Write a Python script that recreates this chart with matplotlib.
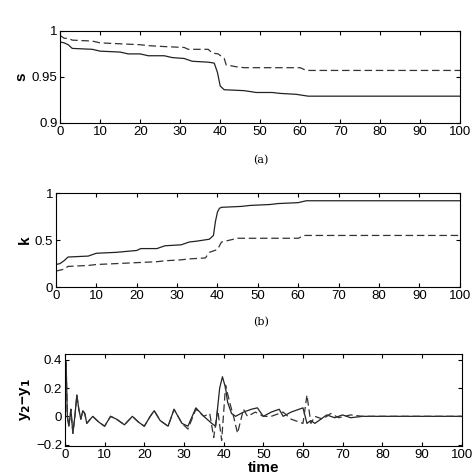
import matplotlib
matplotlib.use('Agg')
import matplotlib.pyplot as plt

plt.rcParams['font.family'] = ['Liberation Sans', 'DejaVu Sans']

# panel (a): s
S_SOLID_T = [0, 1, 2, 3, 8, 10, 15, 17, 20, 22, 26, 28, 31, 33, 37, 38.5, 39.3, 40, 41, 46, 49, 53, 55, 59, 62, 100]
S_SOLID = [0.988, 0.987, 0.985, 0.981, 0.980, 0.978, 0.977, 0.975, 0.975, 0.973, 0.973, 0.971, 0.970, 0.967,
           0.966, 0.965, 0.955, 0.940, 0.936, 0.935, 0.933, 0.933, 0.932, 0.931, 0.929, 0.929]
S_DASH_T = [0, 1, 2, 3, 8, 10, 15, 20, 22, 26, 31, 32, 37, 38, 39.5, 41, 41.5, 44, 46, 60, 61.5, 100]
S_DASH = [0.995, 0.992, 0.992, 0.990, 0.989, 0.987, 0.986, 0.985, 0.984, 0.983, 0.982, 0.980, 0.980, 0.976,
          0.975, 0.970, 0.963, 0.961, 0.960, 0.960, 0.957, 0.957]

# panel (b): k
K_SOLID_T = [0, 1, 2, 3, 8, 10, 15, 20, 21, 25, 27, 31, 33, 35, 38, 39, 39.5, 40, 40.5, 41, 46, 48, 53, 55, 60, 62, 100]
K_SOLID = [0.24, 0.25, 0.28, 0.32, 0.33, 0.36, 0.37, 0.39, 0.41, 0.41, 0.44, 0.45, 0.48, 0.49, 0.51, 0.55,
           0.70, 0.80, 0.84, 0.85, 0.86, 0.87, 0.88, 0.89, 0.90, 0.92, 0.92]
K_DASH_T = [0, 1, 2, 3, 8, 10, 15, 20, 25, 27, 31, 33, 37, 38, 40, 41, 42, 45, 60, 61.5, 100]
K_DASH = [0.17, 0.18, 0.19, 0.22, 0.23, 0.24, 0.25, 0.26, 0.27, 0.28, 0.29, 0.30, 0.31, 0.37, 0.40,
          0.48, 0.49, 0.52, 0.52, 0.55, 0.55]

# panel (c): y2 - y1
Y_SOLID_T = [0, 0.3, 0.6, 1, 1.5, 2, 2.5, 3, 3.5, 4, 4.5, 5, 5.5, 7, 8.5, 10, 11.5, 13, 15, 17, 18.5, 20, 21.5,
             22.5, 24, 26, 27.5, 29.5, 31, 33, 35, 37, 38, 39, 39.7, 40.5, 41, 42, 43, 45, 47, 48.5, 50, 52, 54,
             55, 57, 60, 61, 62, 63, 64, 66, 68, 70, 72, 75, 100]
Y_SOLID = [0.40, 0.38, 0.0, -0.07, 0.05, -0.12, 0.0, 0.15, 0.05, -0.02, 0.04, 0.02, -0.05, 0.0, -0.04, -0.07,
           0.0, -0.02, -0.06, 0.0, -0.04, -0.07, 0.0, 0.04, -0.03, -0.07, 0.05, -0.05, -0.07, 0.06, 0.0, -0.05,
           -0.07, 0.20, 0.28, 0.20, 0.10, 0.02, 0.0, 0.03, 0.05, 0.06, 0.0, 0.03, 0.05, 0.0, 0.03, 0.06, -0.05,
           -0.03, -0.05, -0.03, 0.01, -0.01, 0.01, -0.01, 0.0, 0.0]
Y_DASH_T = [0, 0.3, 0.6, 1, 1.5, 2, 2.5, 3, 3.5, 4, 4.5, 5, 5.5, 7, 8.5, 10, 11.5, 13, 15, 17, 18.5, 20, 21.5,
            22.5, 24, 26, 27.5, 29.5, 31, 33, 35, 36.5, 37.5, 38.5, 39.5, 40.5, 41.5, 42.5, 43.5, 45, 46, 48,
            50, 52, 55, 57, 60, 61, 62, 63, 65, 67, 69, 72, 75, 100]
Y_DASH = [0.40, 0.38, 0.0, -0.07, 0.05, -0.12, 0.0, 0.15, 0.05, -0.02, 0.04, 0.02, -0.05, 0.0, -0.04, -0.07,
          0.0, -0.02, -0.06, 0.0, -0.04, -0.07, 0.0, 0.04, -0.03, -0.07, 0.05, -0.05, -0.09, 0.05, 0.0, 0.02,
          -0.15, 0.05, -0.17, 0.22, 0.10, 0.0, -0.12, 0.05, 0.0, 0.03, 0.0, 0.0, 0.03, -0.02, -0.05, 0.15,
          -0.05, 0.0, -0.02, 0.02, -0.01, 0.01, 0.0, 0.0]

XTICKS = list(range(0, 101, 10))

fig = plt.figure(figsize=(4.74, 4.76), dpi=100)
ax_a = fig.add_axes([0.127, 0.742, 0.844, 0.193])
ax_b = fig.add_axes([0.118, 0.397, 0.852, 0.197])
ax_c = fig.add_axes([0.137, 0.063, 0.837, 0.193])

lw = 0.9
ax_a.plot(S_SOLID_T, S_SOLID, color='#222222', lw=lw)
ax_a.plot(S_DASH_T, S_DASH, color='#333333', lw=lw, ls=(0, (6, 3)))
ax_a.set_ylim(0.9, 1.0)
ax_a.set_yticks([0.9, 0.95, 1.0])
ax_a.set_yticklabels(['0.9', '0.95', '1'])
ax_a.set_ylabel('s', fontweight='bold', fontsize=11, labelpad=2)

ax_b.plot(K_SOLID_T, K_SOLID, color='#222222', lw=lw)
ax_b.plot(K_DASH_T, K_DASH, color='#333333', lw=lw, ls=(0, (6, 3)))
ax_b.set_ylim(0, 1)
ax_b.set_yticks([0, 0.5, 1])
ax_b.set_yticklabels(['0', '0.5', '1'])
ax_b.set_ylabel('k', fontweight='bold', fontsize=11, labelpad=2)

ax_c.plot(Y_SOLID_T, Y_SOLID, color='#222222', lw=lw)
ax_c.plot(Y_DASH_T, Y_DASH, color='#333333', lw=lw, ls=(0, (6, 3)))
ax_c.set_ylim(-0.21, 0.44)
ax_c.set_yticks([-0.2, 0, 0.2, 0.4])
ax_c.set_yticklabels(['\u22120.2', '0', '0.2', '0.4'])
ax_c.set_ylabel('y$_\\mathbf{2}$\u2212y$_\\mathbf{1}$', fontweight='bold', fontsize=11, labelpad=2)
ax_c.set_xlabel('time', fontweight='bold', fontsize=11, labelpad=0)

for ax in (ax_a, ax_b, ax_c):
    ax.set_xlim(0, 100)
    ax.set_xticks(XTICKS)
    ax.tick_params(direction='in', top=True, right=True, labelsize=9.5, length=3, pad=2)

fig.text(0.55, 0.664, '(a)', ha='center', va='center', fontsize=8, family='DejaVu Serif')
fig.text(0.55, 0.324, '(b)', ha='center', va='center', fontsize=8, family='DejaVu Serif')

fig.savefig('out.png', dpi=100)
